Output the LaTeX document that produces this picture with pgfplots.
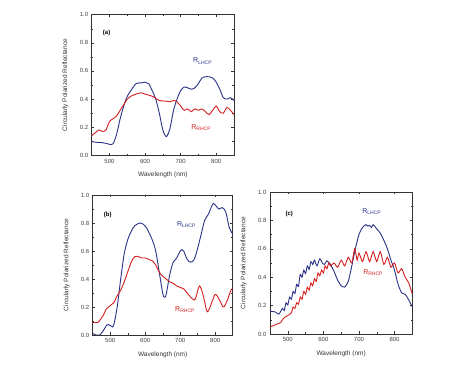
\documentclass[border=0pt]{standalone}
\usepackage{fontspec}
\setmainfont{Liberation Sans}
\usepackage{pgfplots}
\pgfplotsset{compat=1.18}
\definecolor{lblue}{RGB}{40,50,135}
\definecolor{lred}{RGB}{212,30,30}
\pgfplotsset{panel/.style={
  scale only axis, width=142pt, height=140pt,
  xmin=450, xmax=850, ymin=0, ymax=1,
  xtick={500,600,700,800}, ytick={0,0.2,0.4,0.6,0.8,1.0},
  minor x tick num=1, minor y tick num=1,
  tick align=inside, xtick pos=both, ytick pos=both,
  xticklabel pos=bottom, yticklabel pos=left,
  major tick length=2.5pt, minor tick length=1.5pt,
  /pgf/number format/assume math mode=true,
  yticklabel style={/pgf/number format/.cd,fixed,fixed zerofill,precision=1},
  tick label style={font=\fontsize{6}{7}\selectfont, text=black!75},
  every axis x label/.style={at={(axis description cs:0.5,-0.14)},anchor=center,font=\fontsize{6.5}{8}\selectfont, text=black!80},
  every axis y label/.style={at={(axis description cs:-0.185,0.5)},anchor=center,rotate=90,font=\fontsize{6.5}{8}\selectfont, text=black!80},
  xlabel={Wavelength (nm)}, ylabel={Circularly Polarized Reflectance},
  axis line style={black!80, line width=0.6pt},
  every tick/.style={black!80},
}}
\begin{document}
\begin{tikzpicture}
\useasboundingbox (0,0) rectangle (474pt,366pt);
% ---------------- (a)
\begin{axis}[panel, at={(91.7pt,210.7pt)}, anchor=south west, width=142.3pt, height=140.6pt]
\addplot[lblue, line width=0.9pt, smooth] coordinates {
(450,0.097)(465,0.092)(480,0.09)(490,0.085)(500,0.078)(510,0.082)(520,0.15)(530,0.26)(540,0.35)(550,0.42)(560,0.46)(575,0.51)(590,0.515)(600,0.52)(610,0.51)(620,0.46)(630,0.40)(640,0.30)(650,0.18)(660,0.133)(670,0.19)(680,0.32)(690,0.40)(700,0.46)(710,0.485)(720,0.48)(730,0.47)(740,0.48)(750,0.51)(760,0.55)(775,0.56)(790,0.55)(800,0.52)(810,0.47)(820,0.41)(830,0.40)(840,0.41)(850,0.39)};
\addplot[lred, line width=0.9pt, smooth] coordinates {
(450,0.14)(460,0.16)(470,0.18)(480,0.17)(490,0.18)(500,0.24)(510,0.26)(520,0.28)(530,0.32)(540,0.36)(550,0.40)(560,0.42)(580,0.44)(590,0.445)(600,0.435)(620,0.42)(640,0.39)(660,0.385)(670,0.38)(680,0.39)(690,0.38)(700,0.35)(710,0.32)(720,0.33)(730,0.31)(740,0.33)(750,0.32)(760,0.33)(770,0.31)(780,0.29)(790,0.32)(800,0.35)(810,0.31)(820,0.30)(830,0.34)(840,0.32)(850,0.29)};
\node[font=\bfseries\fontsize{6}{7}\selectfont] at (axis cs:492,0.87) {(a)};
\node[lblue, font=\fontsize{7}{8}\selectfont] at (axis cs:762,0.67) {R$_{\mathrm{\scriptscriptstyle LHCP}}$};
\node[lred, font=\fontsize{7}{8}\selectfont] at (axis cs:758,0.196) {R$_{\mathrm{\scriptscriptstyle RHCP}}$};
\end{axis}
% ---------------- (b)
\begin{axis}[panel, at={(92.7pt,31pt)}, anchor=south west, width=140pt, height=140pt]
\addplot[lblue, line width=0.9pt, smooth] coordinates {
(450,0.01)(460,0.0)(470,0.0)(480,0.03)(490,0.07)(495,0.075)(505,0.06)(510,0.07)(520,0.20)(530,0.40)(540,0.58)(550,0.68)(560,0.74)(570,0.78)(585,0.80)(595,0.79)(605,0.76)(620,0.68)(630,0.60)(640,0.45)(650,0.30)(655,0.27)(660,0.29)(670,0.43)(680,0.52)(690,0.55)(700,0.60)(705,0.61)(710,0.60)(720,0.54)(730,0.52)(740,0.54)(750,0.62)(760,0.72)(770,0.82)(780,0.86)(790,0.92)(795,0.94)(800,0.93)(810,0.90)(820,0.91)(830,0.88)(840,0.77)(850,0.72)};
\addplot[lred, line width=0.9pt, smooth] coordinates {
(450,0.09)(465,0.09)(480,0.14)(490,0.19)(500,0.21)(510,0.23)(520,0.28)(530,0.32)(540,0.38)(550,0.45)(560,0.52)(570,0.56)(580,0.56)(590,0.55)(600,0.55)(610,0.54)(620,0.53)(630,0.50)(640,0.45)(650,0.42)(660,0.40)(670,0.38)(680,0.37)(690,0.35)(700,0.34)(710,0.33)(720,0.30)(730,0.27)(740,0.25)(745,0.27)(755,0.35)(765,0.29)(775,0.18)(780,0.17)(790,0.23)(800,0.29)(810,0.26)(820,0.21)(825,0.20)(835,0.25)(845,0.32)(850,0.33)};
\node[font=\bfseries\fontsize{6}{7}\selectfont] at (axis cs:493,0.86) {(b)};
\node[lblue, font=\fontsize{7}{8}\selectfont] at (axis cs:718,0.786) {R$_{\mathrm{\scriptscriptstyle LHCP}}$};
\node[lred, font=\fontsize{7}{8}\selectfont] at (axis cs:714,0.18) {R$_{\mathrm{\scriptscriptstyle RHCP}}$};
\end{axis}
% ---------------- (c)
\begin{axis}[panel, at={(270pt,32pt)}, anchor=south west, width=142.3pt, height=142pt]
\addplot[lblue, line width=0.9pt, smooth, tension=0.4] coordinates {
(450,0.16)(465,0.155)(475,0.14)(485,0.18)(490,0.165)(495,0.22)(500,0.205)(505,0.26)(510,0.245)(515,0.30)(520,0.285)(525,0.35)(530,0.335)(535,0.42)(540,0.40)(545,0.45)(550,0.425)(555,0.48)(560,0.455)(565,0.51)(570,0.49)(575,0.52)(582,0.48)(590,0.53)(597,0.50)(603,0.49)(610,0.515)(620,0.49)(630,0.44)(640,0.38)(650,0.34)(660,0.33)(670,0.37)(680,0.48)(690,0.60)(700,0.70)(710,0.75)(720,0.77)(725,0.76)(730,0.765)(735,0.75)(740,0.77)(750,0.74)(760,0.71)(770,0.66)(780,0.60)(790,0.52)(800,0.45)(810,0.35)(820,0.29)(830,0.28)(840,0.24)(850,0.19)};
\addplot[lred, line width=0.9pt, smooth, tension=0.4] coordinates {
(450,0.05)(460,0.06)(470,0.07)(480,0.08)(485,0.10)(490,0.115)(500,0.13)(510,0.15)(515,0.19)(520,0.18)(525,0.22)(530,0.21)(535,0.26)(540,0.245)(545,0.30)(550,0.28)(555,0.33)(560,0.31)(565,0.36)(570,0.34)(575,0.39)(580,0.37)(585,0.43)(590,0.41)(595,0.45)(600,0.43)(605,0.48)(610,0.46)(615,0.50)(620,0.48)(630,0.50)(640,0.47)(650,0.52)(660,0.48)(670,0.54)(680,0.50)(688,0.60)(695,0.52)(700,0.57)(710,0.51)(720,0.58)(730,0.51)(740,0.58)(750,0.51)(760,0.58)(770,0.49)(780,0.54)(790,0.47)(800,0.50)(810,0.43)(820,0.46)(830,0.40)(840,0.36)(850,0.28)};
\node[font=\bfseries\fontsize{6}{7}\selectfont] at (axis cs:504,0.845) {(c)};
\node[lblue, font=\fontsize{7}{8}\selectfont] at (axis cs:736,0.86) {R$_{\mathrm{\scriptscriptstyle LHCP}}$};
\node[lred, font=\fontsize{7}{8}\selectfont] at (axis cs:740,0.43) {R$_{\mathrm{\scriptscriptstyle RHCP}}$};
\end{axis}
\end{tikzpicture}
\end{document}
